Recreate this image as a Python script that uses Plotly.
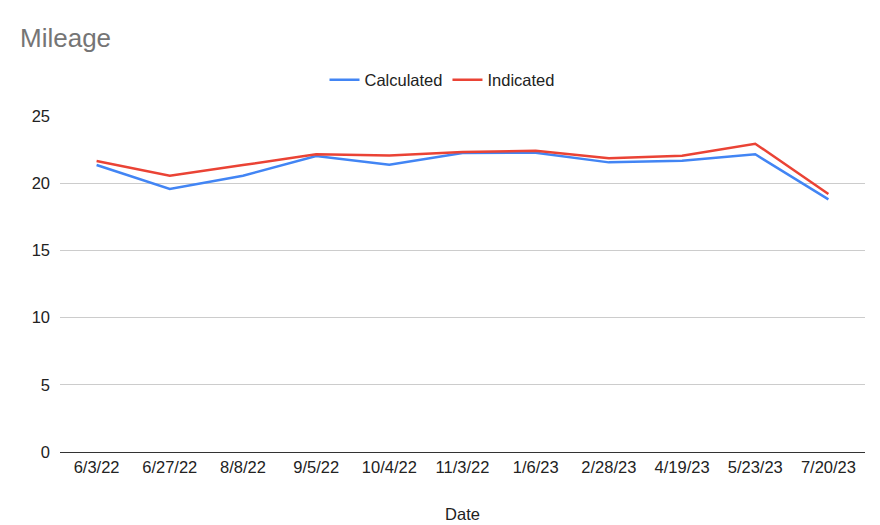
import plotly.graph_objects as go

dates = ["6/3/22", "6/27/22", "8/8/22", "9/5/22", "10/4/22", "11/3/22",
         "1/6/23", "2/28/23", "4/19/23", "5/23/23", "7/20/23"]
calculated = [21.35, 19.57, 20.56, 22.02, 21.38, 22.25, 22.27, 21.55, 21.67, 22.15, 18.8]
indicated = [21.65, 20.56, 21.35, 22.15, 22.07, 22.32, 22.42, 21.85, 22.05, 22.94, 19.2]
y_ticks = [0, 5, 10, 15, 20, 25]

FONT = "Arial, Liberation Sans, sans-serif"
W, H = 880, 525

fig = go.Figure()
fig.add_trace(go.Scatter(x=dates, y=calculated, name="Calculated", mode="lines",
                         line=dict(color="#4285F4", width=2.5)))
fig.add_trace(go.Scatter(x=dates, y=indicated, name="Indicated", mode="lines",
                         line=dict(color="#EA4335", width=2.5)))

fig.update_layout(
    width=W, height=H,
    paper_bgcolor="white", plot_bgcolor="white",
    margin=dict(l=60, r=15, t=116, b=73),
    font=dict(family=FONT, size=16.5, color="#222222"),
    title=dict(text="Mileage", x=20 / W, xref="container", xanchor="left",
               y=1 - 38 / H, yref="container", yanchor="middle",
               font=dict(family=FONT, size=26, color="#757575")),
    legend=dict(orientation="h", x=442 / W, xref="container", xanchor="center",
                y=1 - 80 / H, yref="container", yanchor="middle",
                font=dict(family=FONT, size=16.5, color="#222222"),
                itemwidth=30),
    showlegend=True,
)
fig.update_xaxes(type="category", range=[-0.5, len(dates) - 0.5], automargin=False,
                 showgrid=False, showline=True, linecolor="#333333",
                 linewidth=1, ticks="", tickfont=dict(size=16.5, color="#222222"),
                 title=dict(text="Date", standoff=33, font=dict(size=16.5, color="#222222")))
fig.update_yaxes(range=[0, 25], tickvals=y_ticks, showgrid=True, gridcolor="#cccccc",
                 gridwidth=1, zeroline=False, showline=False, ticks="",
                 ticklabelstandoff=9, automargin=False,
                 tickfont=dict(size=16.5, color="#222222"))

fig.write_html("out.html")
